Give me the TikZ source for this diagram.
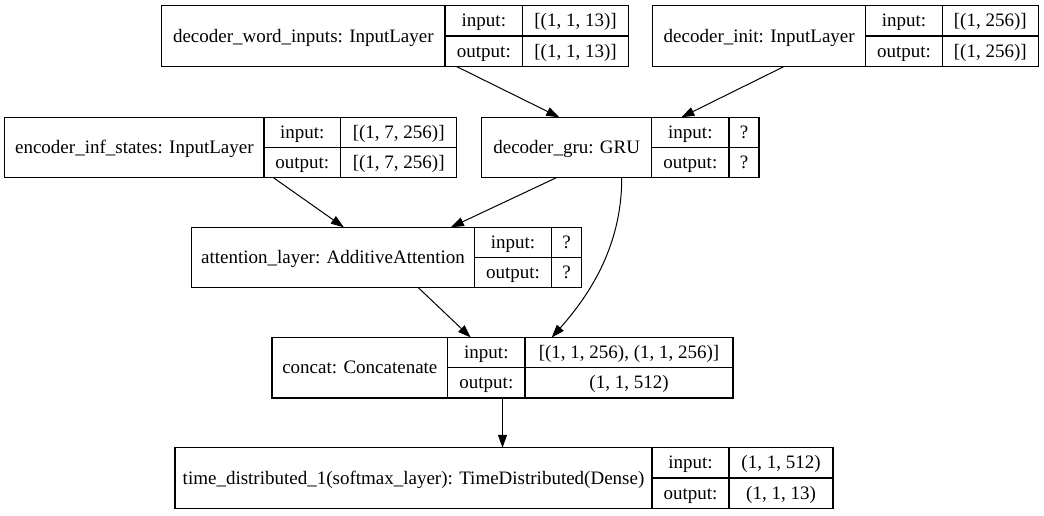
\documentclass[tikz,border=0pt]{standalone}
\usepackage{fontspec}
\setmainfont{Liberation Serif}
\usetikzlibrary{arrows.meta,calc}
\tikzset{
  recbox/.style={draw, line width=1.3pt, inner sep=0pt, outer sep=0pt, anchor=north west, minimum height=60.5pt},
  recline/.style={line width=1.3pt},
  txt/.style={inner sep=0pt, anchor=base, font=\fontsize{19}{22}\selectfont},
  edge/.style={line width=1pt, -{Triangle[length=13pt,width=9pt]}},
}
\newcommand\recnode[9]{%
  \node[recbox, minimum width={(#5-#2)*1pt}] (#1) at (#2,#6) {};
  \draw[recline] (#3,#6) -- (#3,{#6+60.5});
  \draw[recline] (#4,#6) -- (#4,{#6+60.5});
  \draw[recline] (#3,{#6+30.25}) -- (#5,{#6+30.25});
  \node[txt] (#1-name) at ({(#2+#3)/2},{#6+30.25+6}) {#7};
  \node[txt] (#1-il) at ({(#3+#4)/2},{#6+15.1+6}) {input:};
  \node[txt] (#1-ol) at ({(#3+#4)/2},{#6+45.4+6}) {output:};
  \node[txt] (#1-iv) at ({(#4+#5)/2},{#6+15.1+6}) {#8};
  \node[txt] (#1-ov) at ({(#4+#5)/2},{#6+45.4+6}) {#9};
}
\begin{document}
\begin{tikzpicture}[x=1pt,y=-1pt]
\useasboundingbox (0,0) rectangle (1044,516);
\recnode{dwi}{161.7}{445}{522.7}{628.3}{5.8}{decoder\_word\_inputs: InputLayer}{[(1, 1, 13)]}{[(1, 1, 13)]}
\recnode{dinit}{652.7}{865.7}{942.3}{1038.3}{5.8}{decoder\_init: InputLayer}{[(1, 256)]}{[(1, 256)]}
\recnode{enc}{4.7}{264}{340.7}{456.7}{117.3}{encoder\_inf\_states: InputLayer}{[(1, 7, 256)]}{[(1, 7, 256)]}
\recnode{gru}{481.7}{651.7}{729}{759}{117.3}{decoder\_gru: GRU}{?}{?}
\recnode{att}{191.7}{474.3}{551.7}{581.7}{227.3}{attention\_layer: AdditiveAttention}{?}{?}
\recnode{cat}{272}{447.7}{525}{733}{337.5}{concat: Concatenate}{[(1, 1, 256), (1, 1, 256)]}{(1, 1, 512)}
\recnode{td}{175}{652}{729}{833}{447.8}{time\_distributed\_1(softmax\_layer): TimeDistributed(Dense)}{(1, 1, 512)}{(1, 1, 13)}
\draw[edge] (dwi) -- (gru);
\draw[edge] (dinit) -- (gru);
\draw[edge] (enc) -- (att);
\draw[edge] (gru) -- (att);
\draw[edge] (att) -- (cat);
\draw[edge] (cat.south) -- (cat.south |- td.north);
\draw[edge] ([xshift=140pt]gru.south west) .. controls (622,250) and (585,300) .. ([xshift=279.7pt]cat.north west);
\end{tikzpicture}
\end{document}
